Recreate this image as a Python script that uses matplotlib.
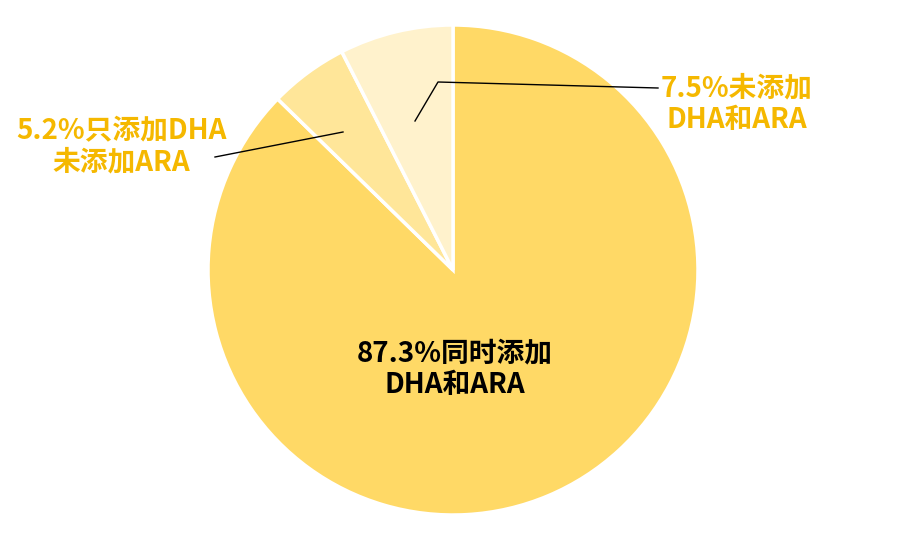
import matplotlib.pyplot as plt

plt.rcParams['font.family'] = ['Noto Sans CJK SC', 'DejaVu Sans']

# Data
labels = ["87.3%同时添加\nDHA和ARA", "5.2%只添加DHA\n未添加ARA", "7.5%未添加\nDHA和ARA"]
shares = [87.3, 5.2, 7.5]
colors = ["#FFD966", "#FFE699", "#FFF2CC"]

W, H = 906, 541
fig = plt.figure(figsize=(W / 100, H / 100), dpi=100)

# pie centre (453, 270) px, radius 245 px
cx, cy, r = 453, 270, 245
ax = fig.add_axes([(cx - r) / W, (H - cy - r) / H, 2 * r / W, 2 * r / H])
ax.pie(shares, colors=colors, startangle=90, counterclock=False, radius=1,
       wedgeprops=dict(edgecolor="white", linewidth=2.5))
ax.set_xlim(-1, 1)
ax.set_ylim(-1, 1)
ax.set_aspect("equal")
ax.axis("off")


def px(x, y):
    # pixel position -> data coordinates
    return (x - cx) / r, (cy - y) / r


gold = "#F5B800"

# centre label
x, y = px(455, 369)
ax.text(x, y, labels[0], ha="center", va="center", fontsize=20,
        fontweight="bold", color="black", linespacing=1.15)

# 5.2% label and leader line
x, y = px(121, 147)
ax.text(x, y, labels[1], ha="center", va="center", fontsize=20,
        fontweight="bold", color=gold, linespacing=1.15, clip_on=False)
p1, p2 = px(215, 157), px(343, 132)
ax.plot([p1[0], p2[0]], [p1[1], p2[1]], color="black", lw=1, clip_on=False)

# 7.5% label and leader line
x, y = px(737, 104)
ax.text(x, y, labels[2], ha="center", va="center", fontsize=20,
        fontweight="bold", color=gold, linespacing=1.15, clip_on=False)
q1, q2, q3 = px(415, 121), px(438, 82), px(658, 88)
ax.plot([q1[0], q2[0], q3[0]], [q1[1], q2[1], q3[1]], color="black", lw=1,
        clip_on=False)

fig.savefig("out.png", dpi=100)
